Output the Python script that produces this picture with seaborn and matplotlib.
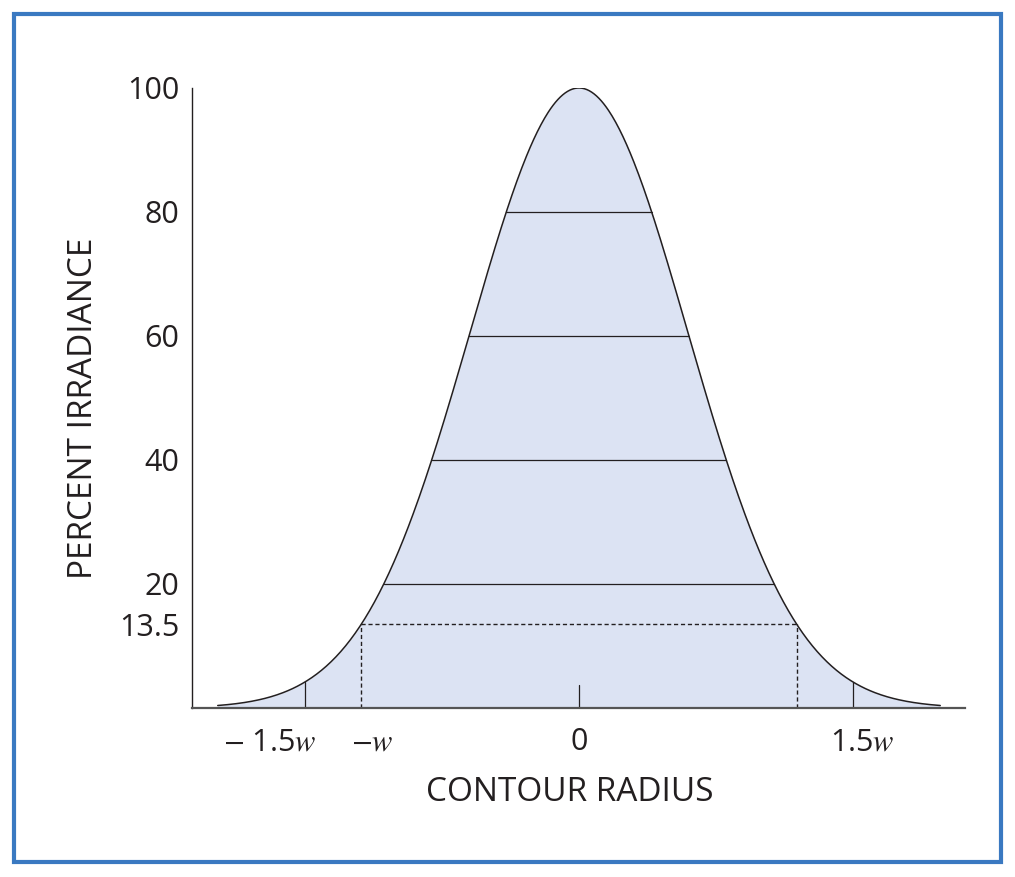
import matplotlib
matplotlib.use("Agg")
import matplotlib.pyplot as plt
import numpy as np
import pandas as pd
import seaborn as sns
from matplotlib.patches import Rectangle

# Gaussian beam profile, radius in units of w, irradiance in percent
peak = 100.0
radius_span = 1.66
level_values = [80, 60, 40, 20]
waist_level = 13.5
marker_radii = [-1.26, 1.26]
centre_tick_height = 3.7
ytick_values = [100, 80, 60, 40, 20, 13.5]
ytick_labels = ["100", "80", "60", "40", "20", "13.5"]
xtick_values = [-1.42, -0.95, 0.0, 1.30]
xtick_labels = [r"$-$ 1.5$w$", r"$-w$", "0", r"1.5$w$"]

FILL = "#dce3f3"
BORDER = "#3a79c1"
INK = "#231f20"


def profile(r):
    return peak * np.exp(-2.0 * r ** 2)


def half_width(level):
    return np.sqrt(-np.log(level / peak) / 2.0)


sns.set_theme(style="white")
plt.rcParams["font.family"] = ["Open Sans", "DejaVu Sans"]
plt.rcParams["mathtext.fontset"] = "stix"

r = np.linspace(-radius_span, radius_span, 600)
df = pd.DataFrame({"radius": r, "irradiance": profile(r)})

fig = plt.figure(figsize=(10.15, 8.77), dpi=100)
ax = fig.add_axes([0.189, 0.1927, 0.762, 0.707])

ax.fill_between(df["radius"], df["irradiance"], color=FILL, lw=0)
sns.lineplot(data=df, x="radius", y="irradiance", ax=ax, color=INK, lw=1.1)

for lv in level_values:
    hw = half_width(lv)
    ax.plot([-hw, hw], [lv, lv], color=INK, lw=0.9)

hw = half_width(waist_level)
ax.plot([-hw, hw], [waist_level, waist_level], color=INK, lw=1.0, ls=(0, (3, 2)))
for xv in (-hw, hw):
    ax.plot([xv, xv], [0, waist_level], color=INK, lw=1.0, ls=(0, (3, 2)))

for xv in marker_radii:
    ax.plot([xv, xv], [0, profile(xv)], color=INK, lw=0.9)
ax.plot([0, 0], [0, centre_tick_height], color=INK, lw=0.9)

ax.set_xlim(-1.779, 1.775)
ax.set_ylim(0, 100)

for side in ("top", "right"):
    ax.spines[side].set_visible(False)
ax.spines["left"].set_color(INK)
ax.spines["left"].set_linewidth(1.0)
ax.spines["bottom"].set_color("#555555")
ax.spines["bottom"].set_linewidth(1.6)

ax.set_yticks(ytick_values)
ax.set_yticklabels(ytick_labels, fontsize=22, color=INK)
ax.set_xticks(xtick_values)
ax.set_xticklabels(xtick_labels, fontsize=22, color=INK)
ax.tick_params(axis="both", length=0)
ax.tick_params(axis="y", pad=9)
ax.tick_params(axis="x", pad=14)

ax.set_xlabel("CONTOUR RADIUS", fontsize=24, color=INK)
ax.set_ylabel("PERCENT IRRADIANCE", fontsize=24, color=INK)
ax.xaxis.set_label_coords(0.489, -0.11)
ax.yaxis.set_label_coords(-0.119, 0.484)

fig.patches.append(Rectangle((0.0138, 0.0171), 0.972, 0.967, transform=fig.transFigure,
                             fill=False, edgecolor=BORDER, lw=3, zorder=10))

fig.savefig("out.png", dpi=100, facecolor="white")
